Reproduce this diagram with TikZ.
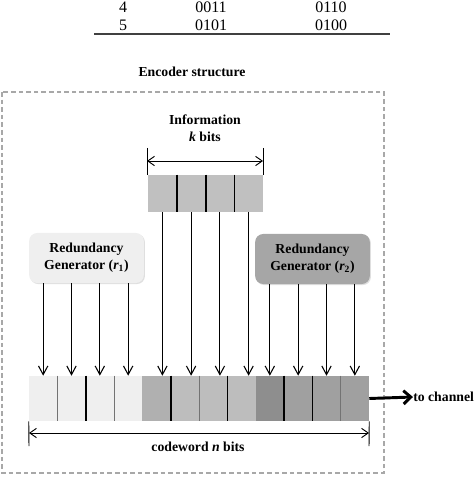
\documentclass[tikz,border=0pt]{standalone}
\usepackage{fontspec}
\setmainfont{Liberation Serif}
\usetikzlibrary{arrows.meta,shadows}
\definecolor{gA}{HTML}{EFEFEF}
\definecolor{gB}{HTML}{BDBDBD}
\definecolor{gBd}{HTML}{B0B0B0}
\definecolor{gC}{HTML}{A0A0A0}
\definecolor{gCd}{HTML}{8E8E8E}
\definecolor{gI}{HTML}{C0C0C0}
\definecolor{gR}{HTML}{A6A6A6}
\definecolor{dashg}{HTML}{A8A8A8}
\begin{document}
\begin{tikzpicture}[x=0.75pt,y=-0.75pt,
  lbl/.style={font=\fontsize{10.3}{12.75}\selectfont\bfseries, inner sep=0pt, align=center},
  tbl/.style={font=\fontsize{12}{14}\selectfont, inner sep=0pt},
  cell/.style={minimum width=21.25pt, minimum height=33.75pt, inner sep=0pt},
  icell/.style={fill=gI, minimum width=21.56pt, minimum height=27.75pt, inner sep=0pt},
  gen/.style={lbl, rounded corners=6pt, minimum width=86pt, minimum height=37.5pt,
     drop shadow={opacity=0.25, shadow xshift=0.8pt, shadow yshift=-0.8pt}},
  downarrow/.style={line width=0.8pt, -{Straight Barb[length=6.5pt,width=7pt]}},
  thickdiv/.style={line width=1.3pt, black},
  thindiv/.style={line width=0.7pt, black!55},
  dimline/.style={line width=0.7pt, {Straight Barb[length=5pt,width=7pt]}-{Straight Barb[length=5pt,width=7pt]}},
  tick/.style={line width=0.7pt}
]
\useasboundingbox (0,0) rectangle (474,498);

% table fragment
\node[tbl] (t41) at (123,7) {4};
\node[tbl] (t42) at (211,7) {0011};
\node[tbl] (t43) at (331,7) {0110};
\node[tbl] (t51) at (123,25) {5};
\node[tbl] (t52) at (211,25) {0101};
\node[tbl] (t53) at (331,25) {0100};
\coordinate (rl) at (94,34);
\coordinate (rr) at (390,34);
\draw[line width=1.1pt, black!75] (rl) -- (rr);

% title
\node[lbl] (title) at (192,72) {Encoder structure};

% dashed frame
\draw[dashg, line width=0.8pt, dash pattern=on 3.5pt off 2.2pt] (2,92) rectangle (384,473);

% information block
\node[lbl] (info) at (205,128.5) {Information\\\textit{k} bits};
\node[icell] (i1) at (162.4,193.5) {};
\node[icell] (i2) at (191.1,193.5) {};
\node[icell] (i3) at (219.9,193.5) {};
\node[icell] (i4) at (248.6,193.5) {};
\foreach \a in {1,2,3} \draw[thickdiv] (i\a.north east) -- (i\a.south east);
\coordinate (ktl) at (147,148);
\coordinate (ktr) at (263,148);
\coordinate (kl) at (147,161);
\coordinate (kr) at (263,161);
\draw[tick] (ktl) -- (i1.north west -| ktl);
\draw[tick] (ktr) -- (i4.north east -| ktr);
\draw[dimline] (kl) -- (kr);

% generators
\node[gen, fill=gA] (g1) at (86.5,258) {Redundancy\\Generator (\textit{r}\textsubscript{1})};
\node[gen, fill=gR] (g2) at (312.5,259) {Redundancy\\Generator (\textit{r}\textsubscript{2})};

% codeword cells
\node[cell, fill=gA] (c1) at (43.17,398.5) {};
\node[cell, fill=gA] (c2) at (71.5,398.5) {};
\node[cell, fill=gA] (c3) at (99.83,398.5) {};
\node[cell, fill=gA] (c4) at (128.17,398.5) {};
\node[cell, fill=gBd] (c5) at (156.5,398.5) {};
\node[cell, fill=gB] (c6) at (184.83,398.5) {};
\node[cell, fill=gB] (c7) at (213.17,398.5) {};
\node[cell, fill=gB] (c8) at (241.5,398.5) {};
\node[cell, fill=gCd] (c9) at (269.83,398.5) {};
\node[cell, fill=gC] (c10) at (298.17,398.5) {};
\node[cell, fill=gC] (c11) at (326.5,398.5) {};
\node[cell, fill=gC] (c12) at (354.83,398.5) {};
\draw[thindiv] (c1.north east) -- (c1.south east);
\draw[thickdiv] (c2.north east) -- (c2.south east);
\draw[thindiv] (c3.north east) -- (c3.south east);
\draw[thickdiv] (c5.north east) -- (c5.south east);
\draw[thindiv] (c6.north east) -- (c6.south east);
\draw[thickdiv] (c7.north east) -- (c7.south east);
\draw[thickdiv] (c9.north east) -- (c9.south east);
\draw[thickdiv] (c10.north east) -- (c10.south east);
\draw[thindiv] (c11.north east) -- (c11.south east);

% arrows from generator r1
\foreach \c in {1,2,3,4} \draw[downarrow] (g1.south -| c\c.north) -- (c\c.north);
% arrows from information bits
\draw[downarrow] (i1.south) -- (i1.south |- c5.north);
\draw[downarrow] (i2.south) -- (i2.south |- c6.north);
\draw[downarrow] (i3.south) -- (i3.south |- c7.north);
\draw[downarrow] (i4.south) -- (i4.south |- c8.north);
% arrows from generator r2
\foreach \c in {9,10,11,12} \draw[downarrow] (g2.south -| c\c.north) -- (c\c.north);

% codeword dimension
\coordinate (cbl) at (29,446);
\coordinate (cbr) at (369,446);
\coordinate (cl) at (29,433);
\coordinate (cr) at (369,433);
\draw[tick] (c1.south west) -- (cbl);
\draw[tick] (c12.south east) -- (cbr);
\draw[dimline] (cl) -- (cr);
\node[lbl] (cw) at (198,447) {codeword \textit{n} bits};

% to channel
\node[lbl, anchor=west] (ch) at (413,397) {to channel};
\draw[line width=2.2pt, -{Straight Barb[length=5.5pt,width=10pt]}] (c12.east) -- (ch.west);
\end{tikzpicture}
\end{document}
